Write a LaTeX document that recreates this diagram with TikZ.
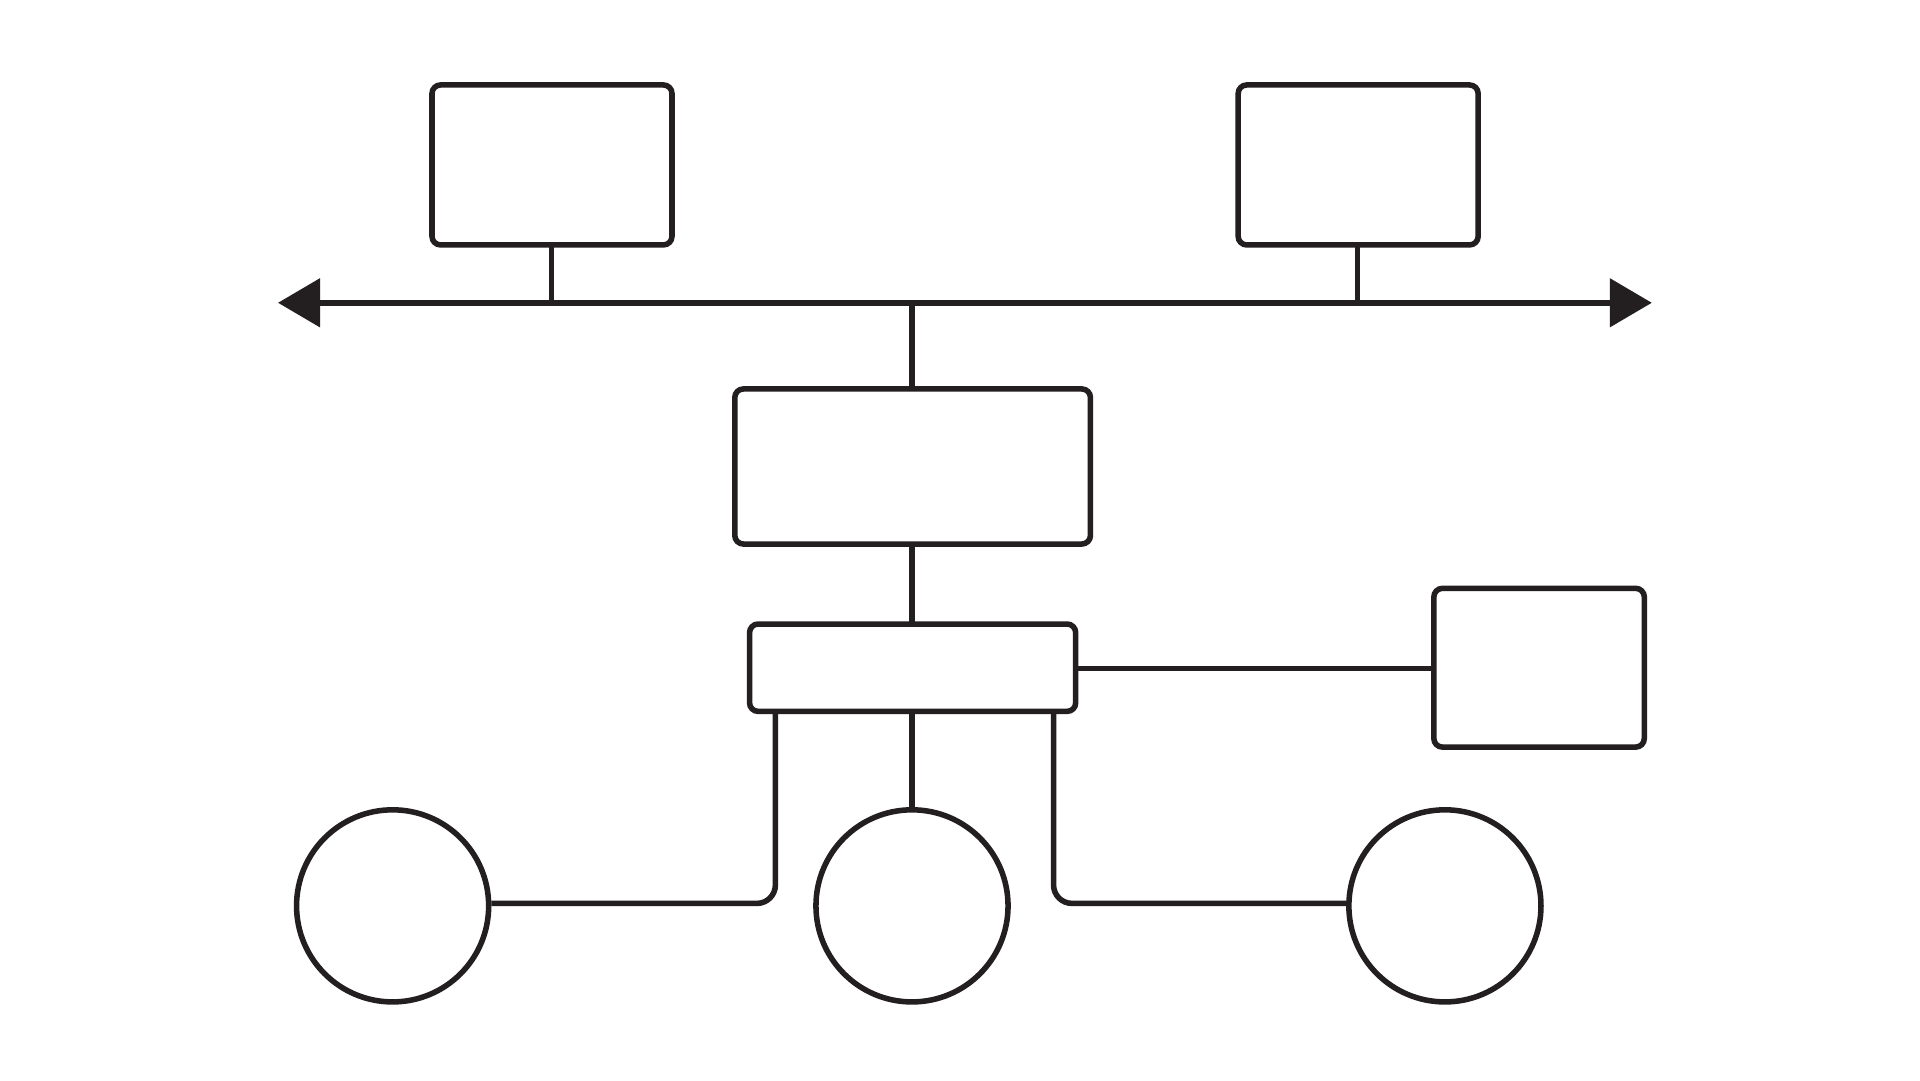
\documentclass[tikz,border=0pt]{standalone}
\definecolor{ink}{HTML}{231F20}
\begin{document}
\begin{tikzpicture}[x=0.01cm,y=-0.01cm,
  ln/.style={draw=ink,line width=0.045cm},
  box/.style={ln,rounded corners=0.07cm},
  circ/.style={ln}]
\useasboundingbox (0,0) rectangle (1560,877.5);
\fill[white] (0,0) rectangle (1560,877.5);
% boxes
\draw[box] (351,69) rectangle (546,199);
\draw[box] (1006,69) rectangle (1201,199);
\draw[box] (597,316) rectangle (886,442);
\draw[box] (609,507) rectangle (874,578);
\draw[box] (1165,478) rectangle (1336,607);
\coordinate (tl) at (448,199); \coordinate (tr) at (1103,199);
\coordinate (mt) at (741,316); \coordinate (mb) at (741,442);
\coordinate (st) at (741,507); \coordinate (sb) at (741,578);
\coordinate (sr) at (874,543); \coordinate (rl) at (1165,543);
% axis
\coordinate (al) at (260,246); \coordinate (ar) at (1308,246);
\draw[ln] (al) -- (ar);
\fill[ink] (226,246) -- (260,226) -- (260,266) -- cycle;
\fill[ink] (1342,246) -- (1308,226) -- (1308,266) -- cycle;
\draw[ln] (tl) -- (448,246);
\draw[ln] (tr) -- (1103,246);
\draw[ln] (741,246) -- (mt);
\draw[ln] (mb) -- (st);
\draw[ln] (sr) -- (rl);
% circles
\node[circ,circle,minimum size=1.56cm,inner sep=0] (c1) at (319,736) {};
\node[circ,circle,minimum size=1.56cm,inner sep=0] (c2) at (741,736) {};
\node[circ,circle,minimum size=1.56cm,inner sep=0] (c3) at (1174,736) {};
\draw[ln] (sb) -- (c2.north);
\draw[ln,rounded corners=0.15cm] (630,578) -- (630,734) -- (c1.east |- 0,734);
\draw[ln,rounded corners=0.15cm] (856,578) -- (856,734) -- (c3.west |- 0,734);
\end{tikzpicture}
\end{document}
